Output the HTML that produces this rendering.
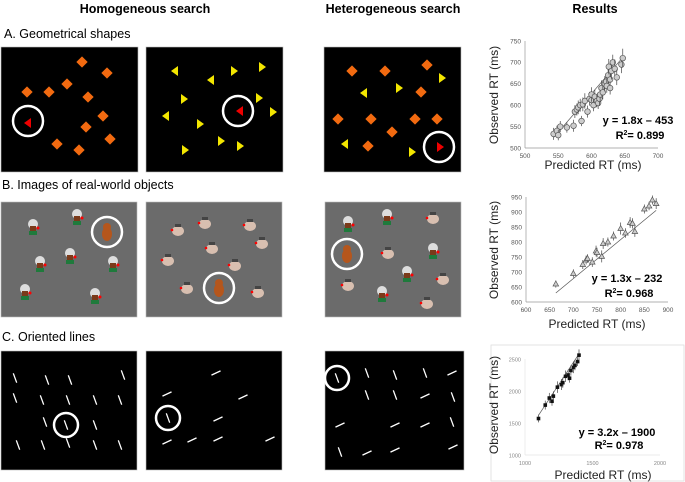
<!DOCTYPE html>
<html><head><meta charset="utf-8"><style>
html,body{margin:0;padding:0;background:#fff;}
svg{display:block;font-family:"Liberation Sans",sans-serif;}
</style></head><body>
<svg id="fig" width="685" height="482" viewBox="0 0 685 482">
<text x="145" y="13" text-anchor="middle" font-size="12.5" font-weight="bold">Homogeneous search</text>
<text x="393" y="13" text-anchor="middle" font-size="12.5" font-weight="bold">Heterogeneous search</text>
<text x="595" y="13" text-anchor="middle" font-size="12.5" font-weight="bold">Results</text>
<text x="4" y="38" font-size="12.5">A. Geometrical shapes</text>
<text x="2" y="189" font-size="12.5">B. Images of real-world objects</text>
<text x="2" y="341" font-size="12.5">C. Oriented lines</text>
<g id="panels"></g>
<g id="charts"></g>
</svg>
<script>
// ---- chart data ----
const predA=[543,548,550,553,563,573,575,578,580,583,585,587,590,594,597,600,600,603,605,608,610,612,613,615,617,620,622,623,625,626,628,628,630,632,635,638,645,647];
const obsA=[533,540,530,550,548,552,585,590,595,600,563,602,610,585,615,612,625,600,620,610,605,615,625,640,630,650,655,645,670,690,660,640,680,700,685,665,695,710];
const errA=[14,12,12,13,12,14,15,14,16,15,12,16,18,14,16,15,17,14,16,15,14,16,17,18,16,18,17,16,20,18,18,15,20,18,22,18,20,22];
const predB=[663,700,720,727,730,740,748,750,760,763,773,785,800,810,820,825,830,850,860,867,875];
const obsB=[660,695,725,740,745,733,770,765,752,795,800,820,845,830,865,862,835,910,920,940,928];
const errB=[12,14,15,15,14,16,18,16,20,18,15,15,20,16,18,17,18,15,14,15,18];
const predC=[1100,1150,1180,1200,1210,1240,1270,1280,1300,1320,1330,1340,1360,1370,1390,1400];
const obsC=[1570,1780,1890,1840,1920,2060,2100,2130,2230,2250,2200,2320,2370,2400,2460,2560];
const errC=[60,70,80,70,75,90,85,80,90,85,70,80,90,75,70,90];
const xTicksA=[500,550,600,650,700], yTicksA=[500,550,600,650,700,750];
const xTicksB=[600,650,700,750,800,850,900], yTicksB=[600,650,700,750,800,850,900,950];
const xTicksC=[1000,1500,2000], yTicksC=[1000,1500,2000,2500];
const fitA=[1.8,-453], fitB=[1.3,-232], fitC=[3.2,-1900];

const NS="http://www.w3.org/2000/svg";
function mk(parent,tag,attrs,text){const e=document.createElementNS(NS,tag);for(const k in attrs)e.setAttribute(k,attrs[k]);if(text!==undefined)e.textContent=text;parent.appendChild(e);return e;}

// ---- stimulus panels ----
const P=document.getElementById('panels');
function panel(x,y,w,h,fill,name){const r=mk(P,'rect',{x:x,y:y,width:w,height:h,fill:fill,stroke:'#bbb','stroke-width':0.6});

}
function diamond(x,y){mk(P,'rect',{x:x-4,y:y-4,width:8,height:8,fill:'#f26a10',transform:`rotate(45 ${x} ${y})`});}
function tri(x,y,dir,col){const d=dir==='R'?`M${x-3},${y-5}L${x+4},${y}L${x-3},${y+5}Z`:`M${x+3},${y-5}L${x-4},${y}L${x+3},${y+5}Z`;mk(P,'path',{d:d,fill:col});}
function ring(x,y,r){const c=mk(P,'circle',{cx:x,cy:y,r:r,fill:'none',stroke:'#fff','stroke-width':2.5});

}
function clown(x,y){mk(P,'circle',{cx:x,cy:y-4,r:5,fill:'#ddd'});mk(P,'rect',{x:x-3,y:y-2,width:6,height:6,fill:'#7a3a1a'});mk(P,'rect',{x:x-4,y:y+3,width:8,height:4,fill:'#1f7a3c'});mk(P,'circle',{cx:x+5,cy:y,r:1.5,fill:'#f00'});}
function pot(x,y){mk(P,'ellipse',{cx:x,cy:y+1,rx:6,ry:5,fill:'#d8bfb0'});mk(P,'rect',{x:x-3,y:y-6,width:6,height:3,fill:'#444'});mk(P,'circle',{cx:x-6,cy:y,r:1.3,fill:'#f00'});}
function bear(x,y){mk(P,'ellipse',{cx:x,cy:y+2,rx:5,ry:7,fill:'#b5561c'});mk(P,'circle',{cx:x,cy:y-5,r:4,fill:'#b5561c'});}
function ln(x,y,steep){const a=steep?70:-25;const dx=5*Math.cos(a*Math.PI/180),dy=5*Math.sin(a*Math.PI/180);mk(P,'line',{x1:x-dx,y1:y-dy,x2:x+dx,y2:y+dy,stroke:'#fff','stroke-width':1.3});}

panel(1,47,137,125,'#000','panel-a-homog-1');panel(146,47,137,125,'#000','panel-a-homog-2');panel(324,47,137,125,'#000','panel-a-hetero');
[[82,62],[107,73],[27,92],[49,92],[67,84],[88,97],[103,116],[86,127],[110,139],[57,144],[79,150]].forEach(p=>diamond(p[0],p[1]));
tri(28,123,'L','#e00');ring(28,121,15);
[[175,71,'L'],[234,71,'R'],[262,67,'R'],[211,80,'L'],[184,99,'R'],[259,98,'R'],[166,116,'L'],[273,112,'R'],[200,124,'R'],[221,141,'R'],[240,146,'R'],[185,150,'R']].forEach(p=>tri(p[0],p[1],p[2],'#f3e600'));
tri(240,111,'L','#e00');ring(238,111,15);
[[352,71],[385,71],[427,65],[421,92],[338,119],[371,119],[415,119],[437,119],[392,132],[368,146]].forEach(p=>diamond(p[0],p[1]));
[[442,78,'R'],[399,88,'R'],[364,93,'L'],[345,144,'L'],[412,152,'R']].forEach(p=>tri(p[0],p[1],p[2],'#f3e600'));
tri(440,147,'R','#e00');ring(439,147,15);

panel(1,202,136,115,'#6b6b6b','panel-b-homog-1');panel(146,202,136,115,'#6b6b6b','panel-b-homog-2');panel(325,202,136,115,'#6b6b6b','panel-b-hetero');
[[33,228],[77,218],[40,265],[70,257],[113,265],[25,293],[95,297]].forEach(p=>clown(p[0],p[1]));
bear(107,232);ring(107,232,15);
[[178,230],[205,223],[250,225],[262,243],[212,248],[168,260],[235,265],[187,288],[258,292]].forEach(p=>pot(p[0],p[1]));
bear(219,288);ring(219,288,15);
[[348,225],[387,218],[433,252],[407,275],[382,295]].forEach(p=>clown(p[0],p[1]));
[[433,218],[388,253],[348,285],[443,279],[427,303]].forEach(p=>pot(p[0],p[1]));
bear(347,254);ring(347,254,15);

panel(1,351,136,119,'#000','panel-c-homog-1');panel(146,351,136,119,'#000','panel-c-homog-2');panel(325,351,139,119,'#000','panel-c-hetero');
[[15,378],[47,380],[70,380],[123,375],[15,398],[42,400],[68,400],[95,400],[120,400],[45,422],[95,425],[18,445],[43,445],[68,443],[95,445],[120,445]].forEach(p=>ln(p[0],p[1],true));
ln(66,425,true);ring(66,425,12);
[[216,373],[167,394],[243,397],[218,419],[167,442],[192,440],[218,439],[270,439]].forEach(p=>ln(p[0],p[1],false));
ln(168,418,true);ring(168,418,12);
[[367,373],[395,375],[425,373],[367,395],[395,395],[453,397],[452,422],[340,452]].forEach(p=>ln(p[0],p[1],true));
[[452,373],[425,396],[340,425],[395,425],[425,425],[367,453],[395,450],[453,447]].forEach(p=>ln(p[0],p[1],false));
ln(337,378,true);ring(337,378,12);

// ---- charts ----
const C=document.getElementById('charts');
mk(C,'rect',{x:491,y:345,width:193,height:136,fill:'none',stroke:'#ddd','stroke-width':0.8});
function chart(o){
  const sx=v=>o.x0+(v-o.xt[0])/(o.xt[o.xt.length-1]-o.xt[0])*(o.x1-o.x0);
  const sy=v=>o.y0-(v-o.yt[0])/(o.yt[o.yt.length-1]-o.yt[0])*(o.y0-o.y1);
  const g=mk(C,'g',{});
  
  
  const ax=mk(g,'line',{x1:o.x0,y1:o.y0,x2:o.x1,y2:o.y0,stroke:o.axc,'stroke-width':0.7});
  
  
  const ay=mk(g,'line',{x1:o.x0,y1:o.y0,x2:o.x0,y2:o.y1,stroke:o.axc,'stroke-width':0.7});
  
  
  o.xt.forEach(t=>{const e=mk(g,'text',{x:sx(t),y:o.y0+o.tkdy,'text-anchor':'middle','font-size':o.tfs,fill:o.tcol},t);
    
    });
  o.yt.forEach(t=>{const e=mk(g,'text',{x:o.x0-4,y:sy(t)+2.3,'text-anchor':'end','font-size':o.tfs,fill:o.tcol},t);
    
    });
  const xs=o.px, fx0=Math.min(...xs), fx1=Math.max(...xs);
  const fl=mk(g,'line',{x1:sx(fx0),y1:sy(o.fit[0]*fx0+o.fit[1]),x2:sx(fx1),y2:sy(o.fit[0]*fx1+o.fit[1]),stroke:'#555','stroke-width':0.7});
  
  
  o.px.forEach((p,i)=>{
    const X=sx(p),Y=sy(o.py[i]);
    mk(g,'line',{x1:X,y1:sy(o.py[i]-o.err[i]),x2:X,y2:sy(o.py[i]+o.err[i]),stroke:'#444','stroke-width':0.7});
    let m;
    if(o.marker==='circle')m=mk(g,'circle',{cx:X,cy:Y,r:2.8,fill:'#ccc',stroke:'#555','stroke-width':0.7});
    else if(o.marker==='tri')m=mk(g,'path',{d:`M${X},${Y-3}L${X+2.8},${Y+2}L${X-2.8},${Y+2}Z`,fill:'#ccc',stroke:'#555','stroke-width':0.7});
    else m=mk(g,'rect',{x:X-1.8,y:Y-1.8,width:3.6,height:3.6,fill:'#111'});
    
    
  });
  const xt=mk(g,'text',{x:o.xtx,y:o.xty,'text-anchor':'middle','font-size':12,fill:'#222'},'Predicted RT (ms)');
  
  
  const yt=mk(g,'text',{x:0,y:0,transform:`translate(498 ${o.ytc}) rotate(-90)`,'text-anchor':'middle','font-size':12,fill:'#222'},'Observed RT (ms)');
  
  
  const eq=mk(g,'text',{x:o.ex,y:o.ey,'text-anchor':'middle','font-size':11,'font-weight':'bold'},o.eq);
  
  
  const r2=mk(g,'text',{x:o.ex+2,y:o.ey+o.rdy,'text-anchor':'middle','font-size':11,'font-weight':'bold'});
  
  
  mk(r2,'tspan',{},'R');mk(r2,'tspan',{dy:-4,'font-size':7},'2');mk(r2,'tspan',{dy:4},'= '+o.r2);
}
chart({name:'chart-geometrical',x0:525,x1:658,y0:148,y1:41,xt:xTicksA,yt:yTicksA,px:predA,py:obsA,err:errA,fit:fitA,marker:'circle',axc:'#999',tkdy:10,tfs:6.5,tcol:'#555',xtx:593,xty:169,ytc:95,ex:638,ey:124,rdy:15,eq:'y = 1.8x \u2013 453',r2:'0.899'});
chart({name:'chart-objects',x0:526,x1:668,y0:302,y1:197,xt:xTicksB,yt:yTicksB,px:predB,py:obsB,err:errB,fit:fitB,marker:'tri',axc:'#999',tkdy:10,tfs:6.5,tcol:'#555',xtx:597,xty:328,ytc:250,ex:627,ey:282,rdy:15,eq:'y = 1.3x \u2013 232',r2:'0.968'});
chart({name:'chart-lines',x0:525,x1:660,y0:455,y1:359,xt:xTicksC,yt:yTicksC,px:predC,py:obsC,err:errC,fit:fitC,marker:'sq',axc:'#e4e4e4',tkdy:10,tfs:5.5,tcol:'#888',xtx:603,xty:479,ytc:405,ex:617,ey:436,rdy:13,eq:'y = 3.2x \u2013 1900',r2:'0.978'});
</script>
</body></html>
